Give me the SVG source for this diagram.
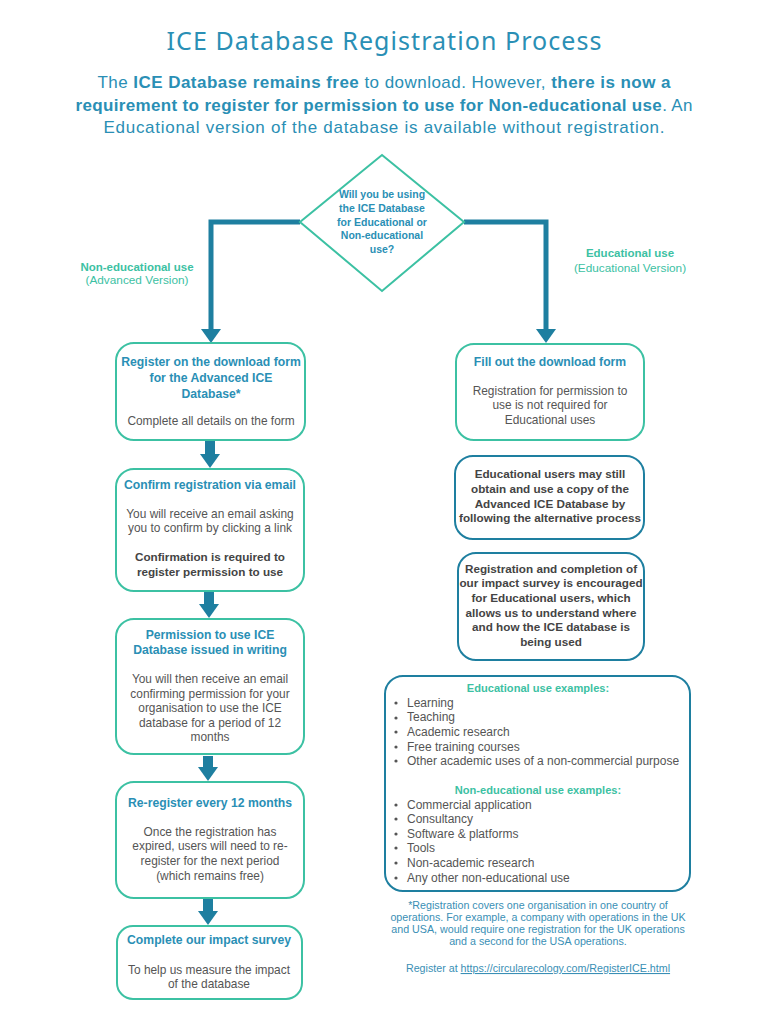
<svg xmlns="http://www.w3.org/2000/svg" width="768" height="1024" viewBox="0 0 768 1024">
<defs>
<style>
text{font-family:"Liberation Sans","Noto Sans",Arial,sans-serif;text-anchor:middle}
.title{font-size:25px;fill:#2a8fb5;font-family:"Noto Sans","Liberation Sans",sans-serif}
.sub{font-size:17px;fill:#2a8fb5}
.b{font-weight:bold}
.box-t{fill:#fff;stroke:#3cc1a3;stroke-width:2}
.box-b{fill:#fff;stroke:#1e7fa0;stroke-width:2}
.h{font-size:12.2px;font-weight:bold;fill:#2a8fb5}
.dq{font-size:10.5px;font-weight:bold;fill:#2a8fb5}
.p{font-size:11.9px;fill:#555}
.pb{font-size:11.7px;fill:#444;font-weight:bold}
.lbl{font-size:11.8px;fill:#3cc1a3}
.lblb{font-size:11.5px;fill:#3cc1a3;font-weight:bold}
.li{font-size:12px;fill:#555;text-anchor:start}
.eh{font-size:11.1px;font-weight:bold;fill:#3cc1a3}
.fn{font-size:10.7px;fill:#3a8fb5}
.conn{fill:none;stroke:#1e7fa0;stroke-width:5}
.ah{fill:#1e7fa0}
</style>
</defs>
<rect width="768" height="1024" fill="#fff"/>

<g id="header">
<text class="title" x="384" y="50" textLength="435">ICE Database Registration Process</text>
<text class="sub" x="384" y="88" textLength="573">The <tspan class="b">ICE Database remains free</tspan> to download. However, <tspan class="b">there is now a</tspan></text>
<text class="sub" x="384" y="111" textLength="617"><tspan class="b">requirement to register for permission to use for Non-educational use</tspan>. An</text>
<text class="sub" x="384" y="133" textLength="561">Educational version of the database is available without registration.</text>
</g>

<g id="connectors">
<polyline class="conn" points="300,222 211,222 211,330"/>
<polygon class="ah" points="201,329 221,329 211,343"/>
<polyline class="conn" points="464,222 546,222 546,330"/>
<polygon class="ah" points="536,329 556,329 546,343"/>
<g id="arrow1"><rect class="ah" x="205" y="441" width="10" height="14"/><polygon class="ah" points="200,454 220,454 210,468"/></g>
<g id="arrow2"><rect class="ah" x="204" y="592" width="10" height="13"/><polygon class="ah" points="199,604 219,604 209,618"/></g>
<g id="arrow3"><rect class="ah" x="203" y="756" width="10" height="12"/><polygon class="ah" points="198,767 218,767 208,781"/></g>
<g id="arrow4"><rect class="ah" x="203" y="899" width="10" height="13"/><polygon class="ah" points="198,911 218,911 208,925"/></g>
<text class="lblb" x="137" y="271">Non-educational use</text>
<text class="lbl" x="137" y="284">(Advanced Version)</text>
<text class="lblb" x="630" y="257">Educational use</text>
<text class="lbl" x="630" y="272">(Educational Version)</text>
</g>

<g id="decision">
<polygon points="382,155 464,222 382,291 300,222" fill="#fff" stroke="#3cc1a3" stroke-width="2"/>
<text class="dq" x="382" y="198">Will you be using</text>
<text class="dq" x="382" y="212">the ICE Database</text>
<text class="dq" x="382" y="226">for Educational or</text>
<text class="dq" x="382" y="239">Non-educational</text>
<text class="dq" x="382" y="253">use?</text>
</g>

<g id="register">
<rect class="box-t" x="116" y="343" width="189" height="97" rx="18"/>
<text class="h" x="211" y="366">Register on the download form</text>
<text class="h" x="211" y="382">for the Advanced ICE</text>
<text class="h" x="211" y="398">Database*</text>
<text class="p" x="211" y="425">Complete all details on the form</text>
</g>

<g id="confirm">
<rect class="box-t" x="116" y="469" width="188" height="122" rx="18"/>
<text class="h" x="210" y="489">Confirm registration via email</text>
<text class="p" x="210" y="518">You will receive an email asking</text>
<text class="p" x="210" y="532">you to confirm by clicking a link</text>
<text class="pb" x="210" y="561">Confirmation is required  to</text>
<text class="pb" x="210" y="576">register permission to use</text>
</g>

<g id="permission">
<rect class="box-t" x="116" y="619" width="188" height="135" rx="18"/>
<text class="h" x="210" y="639">Permission to use ICE</text>
<text class="h" x="210" y="654">Database issued in writing</text>
<text class="p" x="210" y="683">You will then receive an email</text>
<text class="p" x="210" y="698">confirming permission for your</text>
<text class="p" x="210" y="712">organisation to use the ICE</text>
<text class="p" x="210" y="727">database for a period of 12</text>
<text class="p" x="210" y="741">months</text>
</g>

<g id="reregister">
<rect class="box-t" x="116" y="782" width="188" height="116" rx="18"/>
<text class="h" x="210" y="807">Re-register every 12 months</text>
<text class="p" x="210" y="836">Once the registration has</text>
<text class="p" x="210" y="850">expired, users will need to re-</text>
<text class="p" x="210" y="865">register for the next period</text>
<text class="p" x="210" y="880">(which remains free)</text>
</g>

<g id="survey">
<rect class="box-t" x="117" y="926" width="185" height="73" rx="16"/>
<text class="h" x="209" y="944">Complete our impact survey</text>
<text class="p" x="209" y="974">To help us measure the impact</text>
<text class="p" x="209" y="988">of the database</text>
</g>

<g id="filloutform">
<rect class="box-t" x="456" y="344" width="188" height="96" rx="18"/>
<text class="h" x="550" y="366">Fill out the download form</text>
<text class="p" x="550" y="395">Registration for permission to</text>
<text class="p" x="550" y="409">use is not required for</text>
<text class="p" x="550" y="424">Educational uses</text>
</g>

<g id="alternative">
<rect class="box-b" x="455" y="456" width="189" height="83" rx="18"/>
<text class="pb" x="550" y="478">Educational users may still</text>
<text class="pb" x="550" y="493">obtain and use a copy of the</text>
<text class="pb" x="550" y="508">Advanced ICE Database by</text>
<text class="pb" x="550" y="522">following the alternative process</text>
</g>

<g id="encouraged">
<rect class="box-b" x="458" y="553" width="186" height="107" rx="18"/>
<text class="pb" x="551" y="573">Registration and completion of</text>
<text class="pb" x="551" y="587">our impact survey is encouraged</text>
<text class="pb" x="551" y="602">for Educational users, which</text>
<text class="pb" x="551" y="617">allows us to understand where</text>
<text class="pb" x="551" y="631">and how the ICE database is</text>
<text class="pb" x="551" y="646">being used</text>
</g>

<g id="examples">
<rect class="box-b" x="385" y="676" width="305" height="215" rx="18"/>
<text class="eh" x="538" y="692">Educational use examples:</text>
<g fill="#555">
<circle cx="396" cy="703" r="1.6"/><circle cx="396" cy="718" r="1.6"/><circle cx="396" cy="732" r="1.6"/><circle cx="396" cy="747" r="1.6"/><circle cx="396" cy="761" r="1.6"/>
<circle cx="396" cy="805" r="1.6"/><circle cx="396" cy="819" r="1.6"/><circle cx="396" cy="834" r="1.6"/><circle cx="396" cy="848" r="1.6"/><circle cx="396" cy="863" r="1.6"/><circle cx="396" cy="878" r="1.6"/>
</g>
<text class="li" x="407" y="707">Learning</text>
<text class="li" x="407" y="721">Teaching</text>
<text class="li" x="407" y="736">Academic research</text>
<text class="li" x="407" y="751">Free training courses</text>
<text class="li" x="407" y="765">Other academic uses of a non-commercial purpose</text>
<text class="eh" x="538" y="794">Non-educational use examples:</text>
<text class="li" x="407" y="809">Commercial application</text>
<text class="li" x="407" y="823">Consultancy</text>
<text class="li" x="407" y="838">Software &amp; platforms</text>
<text class="li" x="407" y="852">Tools</text>
<text class="li" x="407" y="867">Non-academic research</text>
<text class="li" x="407" y="882">Any other non-educational use</text>
</g>

<g id="footnote">
<text class="fn" x="538" y="909">*Registration covers one organisation in one country of</text>
<text class="fn" x="538" y="921">operations. For example, a company with operations in the UK</text>
<text class="fn" x="538" y="933">and USA, would require one registration for the UK operations</text>
<text class="fn" x="538" y="945">and a second for the USA operations.</text>
<text class="fn" x="538" y="972">Register at <tspan text-decoration="underline">https://circularecology.com/RegisterICE.html</tspan></text>
</g>
</svg>
